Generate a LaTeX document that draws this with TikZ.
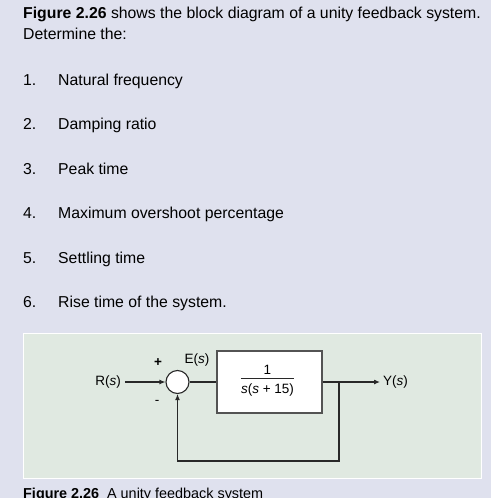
\documentclass[tikz,border=0pt]{standalone}
\usepackage{fontspec}
\setmainfont{Liberation Sans}
\usetikzlibrary{arrows.meta}

\definecolor{pagebg}{RGB}{223,225,238}
\definecolor{panelbg}{RGB}{224,233,225}
\definecolor{wire}{RGB}{40,40,40}

\begin{document}
\begin{tikzpicture}[x=1pt, y=-1pt,
    txt/.style={anchor=base west, inner sep=0pt, font=\fontsize{15.8}{19}\selectfont},
    lbl/.style={inner sep=0pt, font=\fontsize{13.5}{16}\selectfont},
    wireline/.style={draw=wire, line width=1.1pt},
    arr/.style={wireline, -{Latex[length=6pt, width=5pt]}}]
  \useasboundingbox (0,0) rectangle (491,498);
  \fill[pagebg] (0,0) rectangle (491,498);

  % question text
  \node[txt] (intro) at (23,18.5) {\textbf{Figure 2.26} shows the block diagram of a unity feedback system.};
  \node[txt] (ask) at (23,39) {Determine the:};
  \foreach \txt [count=\i] in {Natural frequency, Damping ratio, Peak time,
      Maximum overshoot percentage, Settling time, Rise time of the system.}{
    \node[txt] (num\i) at (23, {85 + 44.5*(\i-1)}) {\i.};
    \node[txt] (item\i) at (58, {85 + 44.5*(\i-1)}) {\txt};
  }

  % figure panel
  \filldraw[fill=panelbg, draw=white, line width=1pt] (23,333) rectangle (481,478);

  \node[draw=wire, line width=1.1pt, circle, fill=white, minimum size=23pt, inner sep=0pt] (sum) at (177.5,382) {};
  \node[draw=wire!80, line width=1.1pt, fill=white, minimum width=105pt, minimum height=62pt] (plant) at (269.5,382) {};
  \node[lbl, anchor=base] (numer) at (267.5,374) {1};
  \node[lbl, anchor=base] (denom) at (267.5,393) {\textit{s}(\textit{s} + 15)};
  \draw[wireline, line width=0.9pt] ([yshift=5pt]denom.north west) -- ([yshift=5pt]denom.north east);

  \node[lbl] (rin) at (108,382) {R(\textit{s})};
  \node[lbl, anchor=west] (yout) at (383,382) {Y(\textit{s})};
  \node[lbl] (err) at (197,360) {E(\textit{s})};
  \node[lbl] (plus) at (158,363) {\textbf{+}};
  \node[lbl] (minus) at (157,402) {-};

  \coordinate (branch) at (339,382);
  \coordinate (fb) at (339,461);

  \draw[arr] ([xshift=4pt]rin.east) -- (sum);
  \draw[wireline] (sum) -- (plant);
  \draw[arr] (plant) -- ([xshift=-3pt]yout.west);
  \draw[arr] (branch) -- (fb) -| (sum);

  % caption
  \node[txt, font=\fontsize{14.4}{17}\selectfont] (caption) at (23,498.5) {\textbf{Figure 2.26}\hspace{0.55em}A unity feedback system};
\end{tikzpicture}
\end{document}
